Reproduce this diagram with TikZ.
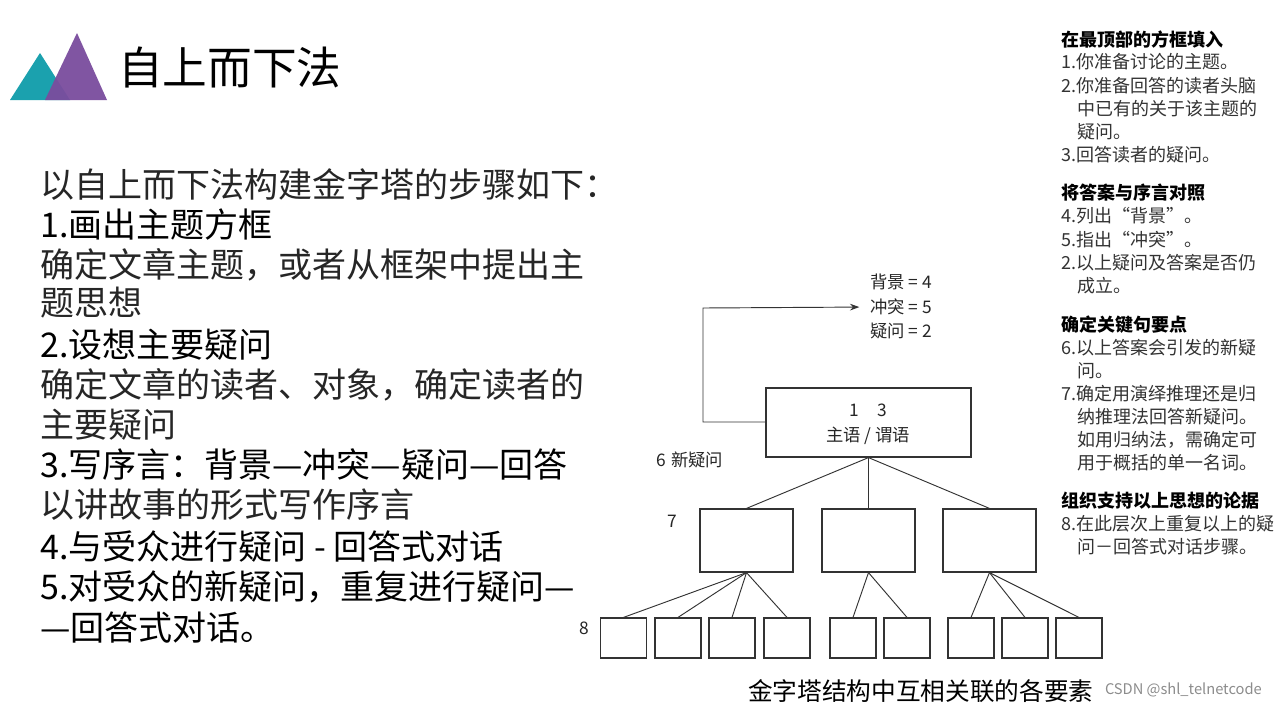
\documentclass[tikz,border=0pt]{standalone}
\usepackage{fontspec}
\setmainfont{Noto Sans CJK SC}
\usetikzlibrary{arrows.meta}
\definecolor{teal1}{HTML}{1BA1AE}
\definecolor{purp}{HTML}{7A4C9E}
\begin{document}
\begin{tikzpicture}[x=0.75pt,y=-0.75pt,
  lt/.style={anchor=west,inner sep=0pt,font=\fontsize{25.5}{27}\selectfont,text=black!85},
  lh/.style={lt,text=black},
  rt/.style={anchor=west,inner sep=0pt,font=\fontsize{13.5}{14}\selectfont,text=black!80},
  rh/.style={rt,font=\fontsize{13.5}{14}\selectfont\bfseries,text=black},
  bx/.style={draw=black!80,line width=0.9pt,minimum width=#1,inner sep=0pt},
  dl/.style={font=\fontsize{13}{14}\selectfont,inner sep=0pt,text=black!85},
  ln/.style={draw=black!80,line width=0.7pt}]
\useasboundingbox (0,0) rectangle (1275,707);
\fill[white] (0,0) rectangle (1275,707);
% logo
\fill[teal1] (10,100) -- (40,53) -- (70,100) -- cycle;
\fill[purp,opacity=0.95] (45,100) -- (77,33) -- (107,100) -- cycle;
\node[anchor=west,inner sep=0pt,font=\fontsize{33.5}{35}\selectfont] (title) at (118,68) {自上而下法};
% left text
\node[lt] (l1) at (40,185) {以自上而下法构建金字塔的步骤如下：};
\node[lh] (l2) at (40,225) {1.画出主题方框};
\node[lt] (l3) at (40,265) {确定文章主题，或者从框架中提出主};
\node[lt] (l4) at (40,303) {题思想};
\node[lh] (l5) at (40,345) {2.设想主要疑问};
\node[lt] (l6) at (40,385) {确定文章的读者、对象，确定读者的};
\node[lt] (l7) at (40,425) {主要疑问};
\node[lh] (l8) at (40,465) {3.写序言：背景—冲突—疑问—回答};
\node[lt] (l9) at (40,505) {以讲故事的形式写作序言};
\node[lh] (l10) at (40,547) {4.与受众进行疑问 - 回答式对话};
\node[lh] (l11) at (40,587) {5.对受众的新疑问，重复进行疑问—};
\node[lh] (l12) at (40,628) {—回答式对话。};
% right text
\node[rh] (r1) at (1061,40) {在最顶部的方框填入};
\node[rt] (r2) at (1061,62) {1.你准备讨论的主题。};
\node[rt] (r3) at (1061,86) {2.你准备回答的读者头脑};
\node[rt] (r4) at (1077,109) {中已有的关于该主题的};
\node[rt] (r5) at (1077,132) {疑问。};
\node[rt] (r6) at (1061,155) {3.回答读者的疑问。};
\node[rh] (r7) at (1061,193) {将答案与序言对照};
\node[rt] (r8) at (1061,216) {4.列出“背景”。};
\node[rt] (r9) at (1061,240) {5.指出“冲突”。};
\node[rt] (r10) at (1061,263) {2.以上疑问及答案是否仍};
\node[rt] (r11) at (1077,286) {成立。};
\node[rh] (r12) at (1061,325) {确定关键句要点};
\node[rt] (r13) at (1061,348) {6.以上答案会引发的新疑};
\node[rt] (r14) at (1077,371) {问。};
\node[rt] (r15) at (1061,394) {7.确定用演绎推理还是归};
\node[rt] (r16) at (1077,417) {纳推理法回答新疑问。};
\node[rt] (r17) at (1077,440) {如用归纳法，需确定可};
\node[rt] (r18) at (1077,463) {用于概括的单一名词。};
\node[rh] (r19) at (1061,501) {组织支持以上思想的论据};
\node[rt] (r20) at (1061,524) {8.在此层次上重复以上的疑};
\node[rt] (r21) at (1077,547) {问－回答式对话步骤。};
% diagram
\node[bx=205*0.75pt,minimum height=69*0.75pt] (top) at (868.5,422.5) {};
\node[dl] (t1) at (868,410) {1\hspace{14pt}3};
\node[dl] (t2) at (868,436) {主语 / 谓语};
\node[dl,anchor=west] (q1) at (870,282) {背景 = 4};
\node[dl,anchor=west] (q2) at (870,307) {冲突 = 5};
\node[dl,anchor=west] (q3) at (870,331) {疑问 = 2};
\coordinate (c1) at (703,422);
\coordinate (c2) at (703,308);
\draw[ln,-{Stealth[length=7pt,width=5pt]},shorten >=8pt] (top.west |- c1) -- (c1) -- (c2) -- (q2.west);
\node[dl,anchor=west] (n6) at (656,460) {6\hspace{4pt}新疑问};
\node[dl] (n7) at (672,521) {7};
\node[dl] (n8) at (584,628) {8};
\foreach \n/\x in {m1/746.5,m2/868.5,m3/989.5}
  \node[bx=93*0.75pt,minimum height=63*0.75pt] (\n) at (\x,540.5) {};
\foreach \m in {m1,m2,m3} \draw[ln] (top.south) -- (\m.north);
\foreach \n/\x in {b1/623.5,b2/678,b3/732,b4/787,b5/853,b6/907,b7/971,b8/1025,b9/1079}
  \node[bx=46*0.75pt,minimum height=40*0.75pt] (\n) at (\x,638) {};
\foreach \b in {b1,b2,b3,b4} \draw[ln] (m1.south) -- (\b.north);
\foreach \b in {b5,b6} \draw[ln] (m2.south) -- (\b.north);
\foreach \b in {b7,b8,b9} \draw[ln] (m3.south) -- (\b.north);
\node[anchor=west,inner sep=0pt,font=\fontsize{18.5}{19}\selectfont] (cap) at (748,691) {金字塔结构中互相关联的各要素};
\node[anchor=east,inner sep=0pt,font=\fontsize{11}{12}\selectfont,text=black!45] (wm) at (1262,690) {CSDN @shl\_telnetcode};
\end{tikzpicture}
\end{document}
